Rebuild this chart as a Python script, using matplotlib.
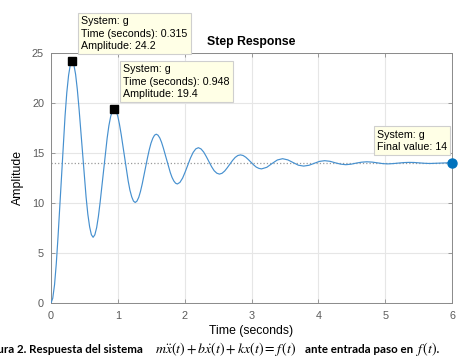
import matplotlib
matplotlib.use("Agg")
import matplotlib.pyplot as plt

# step response samples
time_s = [
    0, 0.026, 0.053, 0.079, 0.105, 0.131, 0.158, 0.184, 0.21, 0.236, 0.263, 0.289,
    0.315, 0.341, 0.368, 0.394, 0.42, 0.446, 0.473, 0.499, 0.525, 0.551, 0.578, 0.604,
    0.63, 0.656, 0.683, 0.709, 0.735, 0.761, 0.788, 0.814, 0.84, 0.866, 0.893, 0.919,
    0.945, 0.971, 0.998, 1.024, 1.05, 1.076, 1.103, 1.129, 1.155, 1.181, 1.208, 1.234,
    1.26, 1.286, 1.313, 1.339, 1.365, 1.391, 1.418, 1.444, 1.47, 1.496, 1.523, 1.549,
    1.575, 1.601, 1.628, 1.654, 1.68, 1.706, 1.733, 1.759, 1.785, 1.811, 1.838, 1.864,
    1.89, 1.929, 1.969, 2.008, 2.048, 2.087, 2.126, 2.166, 2.205, 2.244, 2.284, 2.323,
    2.363, 2.402, 2.441, 2.481, 2.52, 2.559, 2.599, 2.638, 2.678, 2.717, 2.756, 2.796,
    2.835, 2.874, 2.914, 2.953, 2.993, 3.032, 3.071, 3.111, 3.15,
    3.229, 3.308, 3.386, 3.465, 3.544, 3.623, 3.701, 3.78, 3.859, 3.938, 4.016, 4.095,
    4.174, 4.253, 4.331, 4.41, 4.489, 4.568, 4.646, 4.725, 4.804, 4.883, 4.961, 5.04,
    5.119, 5.198, 5.276, 5.355, 5.434, 5.513, 5.591, 5.67, 5.749, 5.828, 5.906, 5.985,
    6.0,
]
amplitude = [
    0, 0.47, 1.83, 3.93, 6.60, 9.63, 12.80, 15.88, 18.68, 21.02, 22.77, 23.84,
    24.20, 23.86, 22.87, 21.34, 19.39, 17.18, 14.88, 12.63, 10.59, 8.88, 7.61, 6.83,
    6.57, 6.82, 7.54, 8.65, 10.07, 11.68, 13.36, 15.00, 16.48, 17.73, 18.66, 19.23,
    19.42, 19.23, 18.71, 17.89, 16.86, 15.69, 14.47, 13.27, 12.19, 11.28, 10.61, 10.19,
    10.05, 10.19, 10.57, 11.16, 11.91, 12.77, 13.66, 14.53, 15.32, 15.98, 16.47, 16.78,
    16.88, 16.78, 16.50, 16.07, 15.52, 14.90, 14.25, 13.61, 13.04, 12.56, 12.20, 11.98,
    11.90, 12.06, 12.49, 13.11, 13.82, 14.50, 15.05, 15.41, 15.53, 15.41, 15.10, 14.65,
    14.13, 13.64, 13.23, 12.98, 12.89, 12.97, 13.20, 13.53, 13.90, 14.26, 14.56, 14.75,
    14.81, 14.75, 14.58, 14.34, 14.07, 13.81, 13.59, 13.46, 13.41,
    13.57, 13.95, 14.30, 14.43, 14.31, 14.04, 13.78, 13.69, 13.77, 13.97, 14.16, 14.23,
    14.17, 14.02, 13.89, 13.83, 13.88, 13.99, 14.08, 14.12, 14.09, 14.01, 13.94, 13.91,
    13.94, 13.99, 14.04, 14.06, 14.05, 14.01, 13.97, 13.95, 13.97, 14.00, 14.02, 14.03,
    14.00,
]

# data tips
peak_times = [0.315, 0.948]
peak_amps = [24.2, 19.4]
final_time = 6.0
final_value = 14
system_name = "g"

x_ticks = [0, 1, 2, 3, 4, 5, 6]
y_ticks = [0, 5, 10, 15, 20, 25]

plt.rcParams["font.family"] = ["Liberation Sans", "DejaVu Sans"]
plt.rcParams["mathtext.fontset"] = "stix"

fig = plt.figure(figsize=(4.74, 3.62), dpi=100)
ax = fig.add_axes([0.1076, 0.163, 0.846, 0.6906])

ax.plot(time_s, amplitude, color="#4690cf", lw=0.85, zorder=3)
ax.axhline(final_value, color="#9a9a9a", ls=":", lw=0.9, zorder=2)

ax.set_xlim(0, 6)
ax.set_ylim(0, 25)
ax.set_xticks(x_ticks)
ax.set_yticks(y_ticks)
ax.grid(True, color="#e6e6e6", lw=0.8)
ax.set_axisbelow(True)
ax.tick_params(direction="in", length=3, width=0.6, colors="#8a8a8a",
               labelcolor="#5a5a5a", labelsize=7.8, top=True, right=True)
ax.tick_params(axis="y", pad=5)
ax.tick_params(axis="x", pad=6)
for s in ax.spines.values():
    s.set_color("#8a8a8a")
    s.set_linewidth(0.7)

ax.set_title("Step Response", fontsize=8.8, fontweight="bold", pad=6)
ax.set_xlabel("Time (seconds)", fontsize=8.8, labelpad=3)
ax.set_ylabel("Amplitude", fontsize=8.8, labelpad=6)

# peak markers and final value dot
ax.plot(peak_times, peak_amps, ls="none", marker="s", ms=5.5, color="black",
        zorder=5, clip_on=False)
ax.plot([final_time], [final_value], ls="none", marker="o", ms=6.5,
        color="#0072BD", zorder=5, clip_on=False)

tip_box = dict(boxstyle="square,pad=0.3", fc="#ffffe6", ec="#cfcfcf", lw=0.8)
for t, a in zip(peak_times, peak_amps):
    ax.annotate(f"System: {system_name}\nTime (seconds): {t:.3f}\nAmplitude: {a:.1f}",
                xy=(t, a), xytext=(9, 10), textcoords="offset pixels",
                ha="left", va="bottom", fontsize=7.7, linespacing=1.3,
                bbox=tip_box, annotation_clip=False, zorder=6)
ax.annotate(f"System: {system_name}\nFinal value: {final_value}",
            xy=(final_time, final_value), xytext=(-5, 11), textcoords="offset pixels",
            ha="right", va="bottom", multialignment="left", fontsize=7.7,
            linespacing=1.3, bbox=tip_box, annotation_clip=False, zorder=6)

# caption under the figure (left part cut off as in the source)
cap_y = 0.026
cap_font = ["Lato", "DejaVu Sans"]
fig.text(143 / 474, cap_y, "Figura 2. Respuesta del sistema", ha="right", va="baseline",
         fontsize=8.3, fontweight="bold", family=cap_font)
fig.text(155 / 474, cap_y, r"$m\ddot{x}(t)+b\dot{x}(t)+kx(t)=f\,(t)$", ha="left",
         va="baseline", fontsize=10.0)
fig.text(305 / 474, cap_y, "ante entrada paso en", ha="left", va="baseline",
         fontsize=8.3, fontweight="bold", family=cap_font)
fig.text(415 / 474, cap_y, r"$f\,(t)$.", ha="left", va="baseline", fontsize=10.0)

fig.savefig("out.png", dpi=100)
